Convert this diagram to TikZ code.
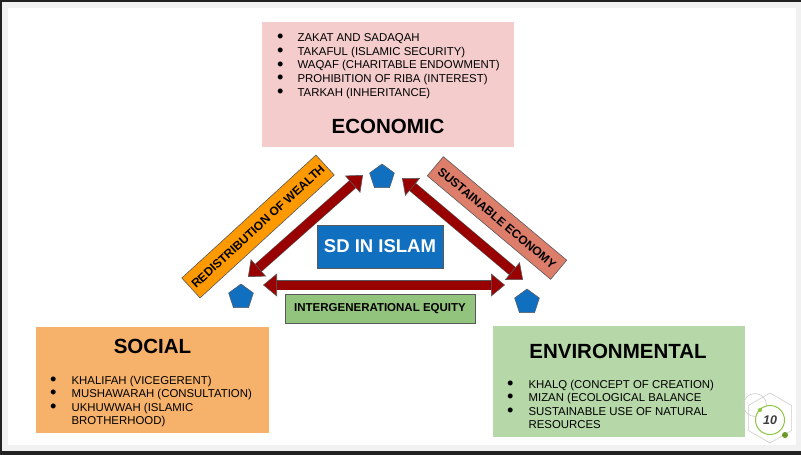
\documentclass[tikz,border=0pt]{standalone}
\usepackage{fontspec}
\setmainfont{Liberation Sans}
\usepackage{xcolor}
\usepackage{tikz}
\usetikzlibrary{arrows.meta, positioning, shapes.geometric}
\definecolor{framedark}{RGB}{34,34,34}
\definecolor{framegray}{RGB}{241,241,241}
\definecolor{econpink}{RGB}{244,204,204}
\definecolor{socorange}{RGB}{246,178,107}
\definecolor{envgreen}{RGB}{182,215,168}
\definecolor{equitygreen}{RGB}{147,196,125}
\definecolor{sdblue}{RGB}{17,111,192}
\definecolor{wealthorange}{RGB}{255,153,0}
\definecolor{econsalmon}{RGB}{221,126,107}
\definecolor{arrowred}{RGB}{153,0,0}
\definecolor{edgegray}{RGB}{89,89,89}
\definecolor{badgegray}{RGB}{205,205,205}
\definecolor{badgegreen}{RGB}{141,198,63}
\definecolor{badgedark}{RGB}{106,153,38}
\definecolor{numgray}{RGB}{60,60,60}
\newcommand{\dotmark}{\raisebox{-0.2ex}{\scalebox{1.6}{\textbullet}}}

\begin{document}
\begin{tikzpicture}[
    x=1pt, y=-1pt,
    every node/.style={inner sep=0pt, font=\fontsize{11.4}{13.6}\selectfont},
    title/.style={anchor=base, font=\fontsize{20.5}{24}\selectfont\bfseries},
    itemlist/.style={anchor=base west},
    tag/.style={draw=edgegray, line width=0.6pt, minimum height=27pt,
        font=\fontsize{12}{14}\selectfont\bfseries},
    corner/.style={regular polygon, regular polygon sides=5, fill=sdblue,
        draw=edgegray, line width=0.5pt, minimum size=26pt},
    link/.style={line width=9pt, draw=arrowred,
        {Triangle[length=14pt, width=23pt, line width=0.6pt, color=edgegray, fill=arrowred]}-{Triangle[length=14pt, width=23pt, line width=0.6pt, color=edgegray, fill=arrowred]},
        preaction={draw=edgegray, line width=10.2pt, arrows=-, shorten <=12pt, shorten >=12pt}},
]
    % Slide frame
    \useasboundingbox (0,0) rectangle (801,455);
    \fill[framedark] (0,0) rectangle (801,455);
    \fill[framegray] (2,2) rectangle (801,451);
    \fill[white] (8,8) rectangle (796,445);

    % Economic
    \node[fill=econpink, minimum width=252pt, minimum height=125pt] (econbox) at (388,84.5) {};
    \node[itemlist] (econlist) at (277,41.7) {%
        \begin{tabular}[t]{@{}l@{\hspace{14pt}}l@{}}
        \dotmark & ZAKAT AND SADAQAH\\
        \dotmark & TAKAFUL (ISLAMIC SECURITY)\\
        \dotmark & WAQAF (CHARITABLE ENDOWMENT)\\
        \dotmark & PROHIBITION OF RIBA (INTEREST)\\
        \dotmark & TARKAH (INHERITANCE)
        \end{tabular}};
    \node[title] (econtitle) at (388,133) {ECONOMIC};

    % Social
    \node[fill=socorange, minimum width=233pt, minimum height=106pt] (socbox) at (152.5,380) {};
    \node[title] (soctitle) at (152.5,353) {SOCIAL};
    \node[itemlist] (soclist) at (50,384) {%
        \begin{tabular}[t]{@{}l@{\hspace{15pt}}l@{}}
        \dotmark & KHALIFAH (VICEGERENT)\\
        \dotmark & MUSHAWARAH (CONSULTATION)\\
        \dotmark & UKHUWWAH (ISLAMIC\\
                 & BROTHERHOOD)
        \end{tabular}};

    % Environmental
    \node[fill=envgreen, minimum width=252pt, minimum height=111pt] (envbox) at (619,381.5) {};
    \node[title] (envtitle) at (618,358) {ENVIRONMENTAL};
    \node[itemlist] (envlist) at (507,388) {%
        \begin{tabular}[t]{@{}l@{\hspace{15pt}}l@{}}
        \dotmark & KHALQ (CONCEPT OF CREATION)\\
        \dotmark & MIZAN (ECOLOGICAL BALANCE\\
        \dotmark & SUSTAINABLE USE OF NATURAL\\
                 & RESOURCES
        \end{tabular}};

    % Centre
    \node[fill=sdblue, draw=edgegray, line width=0.5pt, minimum width=126pt, minimum height=43pt,
        text=white, font=\fontsize{18.5}{22}\selectfont\bfseries] (sdbox) at (380,246.5) {SD IN ISLAM};
    \node[fill=equitygreen, draw=edgegray, line width=0.6pt, minimum width=190pt, minimum height=29pt,
        font=\fontsize{11.5}{13}\selectfont\bfseries] (equity) at (380,308.5) {INTERGENERATIONAL EQUITY};

    % Corners
    \node[corner] (pentop) at (382,177) {};
    \node[corner] (penleft) at (241,297) {};
    \node[corner] (penright) at (527,302) {};

    % Links
    \coordinate (se1) at (248,277);
    \coordinate (se2) at (363,175);
    \coordinate (ev1) at (402,178);
    \coordinate (ev2) at (523,280);
    \coordinate (sv1) at (263,285);
    \coordinate (sv2) at (505,285);
    \draw[link] (se1) -- (se2);
    \draw[link] (ev1) -- (ev2);
    \draw[link] (sv1) -- (sv2);

    % Tags
    \node[tag, fill=wealthorange, minimum width=182pt, rotate=42.5] (wealth) at (258,226.5) {REDISTRIBUTION OF WEALTH};
    \node[tag, fill=econsalmon, minimum width=161pt, minimum height=25pt, rotate=-40] (sustain) at (497,218) {SUSTAINABLE ECONOMY};

    % Page badge
    \node[regular polygon, regular polygon sides=6, shape border rotate=30, draw=badgegray,
        line width=0.6pt, minimum size=50pt] (badgehex) at (770,418) {};
    \node[circle, draw=badgegray, line width=0.6pt, minimum size=23pt] (badgering) at (755,405) {};
    \node[circle, fill=white, draw=badgegreen, line width=1pt, minimum size=29pt, text=numgray,
        font=\fontsize{12.5}{14}\selectfont\bfseries\itshape] (pagenum) at (770,420) {10};
    \fill[badgegreen] (760,410) circle (2pt);
    \fill[badgedark] (785,435) circle (3pt);
\end{tikzpicture}
\end{document}
